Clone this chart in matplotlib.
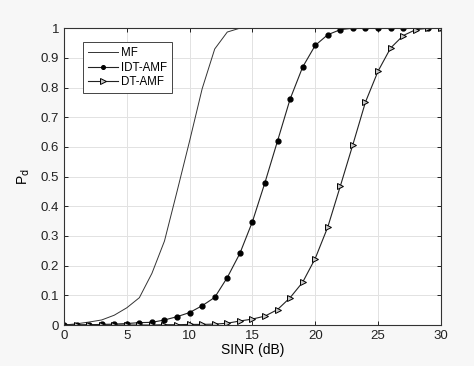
import matplotlib
matplotlib.use("Agg")
import matplotlib.pyplot as plt
import numpy as np

plt.rcParams['font.family'] = ['Liberation Sans', 'DejaVu Sans']

sinr = list(range(0, 31))

mf = [0.0, 0.004, 0.010, 0.017, 0.033, 0.058, 0.092, 0.174, 0.283, 0.45,
      0.62, 0.796, 0.93, 0.987, 1.0, 1.0, 1.0, 1.0, 1.0, 1.0,
      1.0, 1.0, 1.0, 1.0, 1.0, 1.0, 1.0, 1.0, 1.0, 1.0, 1.0]

idt_amf = [0.0, 0.0, 0.001, 0.002, 0.003, 0.005, 0.008, 0.009, 0.017, 0.028,
           0.042, 0.065, 0.093, 0.16, 0.241, 0.348, 0.48, 0.62, 0.761, 0.869,
           0.942, 0.978, 0.995, 1.0, 1.0, 1.0, 1.0, 1.0, 1.0, 1.0, 1.0]

dt_amf = [0.0, 0.0, 0.0, 0.0, 0.0, 0.0, 0.0, 0.0, 0.001, 0.001,
          0.002, 0.002, 0.003, 0.006, 0.0135, 0.02, 0.03, 0.052, 0.092, 0.144,
          0.224, 0.33, 0.468, 0.608, 0.751, 0.855, 0.933, 0.975, 0.995, 1.0, 1.0]

xticks = [0, 5, 10, 15, 20, 25, 30]
yticks = [0, 0.1, 0.2, 0.3, 0.4, 0.5, 0.6, 0.7, 0.8, 0.9, 1]
ytick_labels = ['0', '0.1', '0.2', '0.3', '0.4', '0.5', '0.6', '0.7', '0.8', '0.9', '1']

fig = plt.figure(figsize=(4.74, 3.66), dpi=100, facecolor='#f7f7f7')
ax = fig.add_axes([0.135, 0.112, 0.795, 0.811])
ax.set_facecolor('white')

lc = '#222222'
ax.plot(sinr, mf, color='#333333', lw=0.7, label='MF')
ax.plot(sinr, idt_amf, color=lc, lw=0.8, marker='o', ms=3.5,
        mfc='black', mec='black', label='IDT-AMF')
ax.plot(sinr, dt_amf, color=lc, lw=0.8, marker='>', ms=5,
        mfc='#c8c8c8', mec='black', mew=0.7, label='DT-AMF')

ax.set_xlim(0, 30)
ax.set_ylim(0, 1)
ax.set_xticks(xticks)
ax.set_yticks(yticks)
ax.set_yticklabels(ytick_labels)
ax.grid(True, color='#e2e2e2', lw=0.7)
ax.set_axisbelow(True)
ax.tick_params(direction='in', top=True, right=True, labelsize=9.5, length=3,
               width=0.7, colors='#222222')
for s in ax.spines.values():
    s.set_linewidth(0.8)
    s.set_color('#333333')

ax.set_xlabel('SINR (dB)', fontsize=10, labelpad=1)
ax.set_ylabel(r'P$_{\mathrm{d}}$', fontsize=10, labelpad=6)

leg = ax.legend(loc='upper left', bbox_to_anchor=(0.05, 0.954), fontsize=8.3,
                handlelength=2.6, handletextpad=0.25, borderpad=0.45,
                labelspacing=0.22, borderaxespad=0, markerscale=0.75,
                fancybox=False, framealpha=1, edgecolor='#444444')
leg.get_frame().set_linewidth(0.7)

fig.savefig('out.png', dpi=100, facecolor=fig.get_facecolor())
